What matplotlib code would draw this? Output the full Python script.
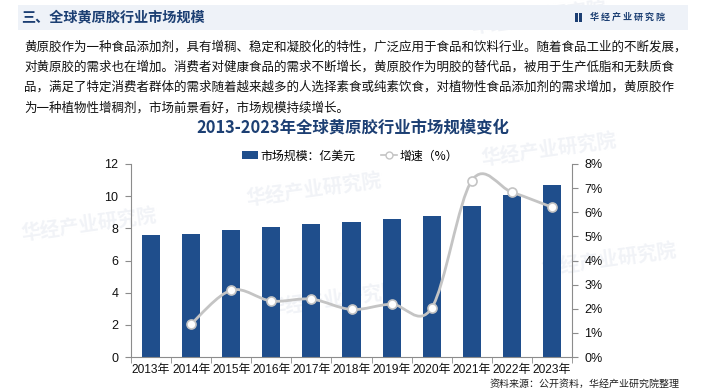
import matplotlib.pyplot as plt
from matplotlib.path import Path
from matplotlib.patches import PathPatch, Rectangle
from matplotlib.lines import Line2D

plt.rcParams['font.family'] = ['Liberation Sans', 'Noto Sans CJK SC', 'DejaVu Sans']

years = ['2013年', '2014年', '2015年', '2016年', '2017年', '2018年',
         '2019年', '2020年', '2021年', '2022年', '2023年']
market = [7.59, 7.66, 7.90, 8.09, 8.28, 8.40, 8.59, 8.77, 9.39, 10.08, 10.70]
growth = [None, 1.37, 2.77, 2.32, 2.40, 1.97, 2.19, 2.03, 7.31, 6.83, 6.21]
left_ticks = [0, 2, 4, 6, 8, 10, 12]
right_ticks = [0, 1, 2, 3, 4, 5, 6, 7, 8]

title = '三、全球黄原胶行业市场规模'
chart_title = '2013-2023年全球黄原胶行业市场规模变化'
body = [
    '黄原胶作为一种食品添加剂，具有增稠、稳定和凝胶化的特性，广泛应用于食品和饮料行业。随着食品工业的不断发展，',
    '对黄原胶的需求也在增加。消费者对健康食品的需求不断增长，黄原胶作为明胶的替代品，被用于生产低脂和无麸质食',
    '品，满足了特定消费者群体的需求随着越来越多的人选择素食或纯素饮食，对植物性食品添加剂的需求增加，黄原胶作',
    '为一种植物性增稠剂，市场前景看好，市场规模持续增长。',
]
source = '资料来源：公开资料，华经产业研究院整理'

blue = '#1F4E8C'
dark = '#1C3F73'
grey_line = '#C4C4C4'
axis_col = '#8C8C8C'

W, H = 705, 392
fig = plt.figure(figsize=(W / 100, H / 100), dpi=100)


def fx(px):
    return px / W


def fy(py):
    return 1 - py / H


# header band
fig.patches.append(Rectangle((fx(18), fy(30)), fx(670), 25 / H, transform=fig.transFigure,
                             facecolor='#EEF2F8', edgecolor='none', zorder=0))
fig.text(fx(21), fy(17), title, fontsize=10.2, fontweight='bold', color=dark,
         va='center', ha='left', family=['Noto Sans CJK SC'])
fig.patches.append(Rectangle((fx(575), fy(22)), fx(3), 9 / H, transform=fig.transFigure,
                             facecolor=dark, edgecolor='none'))
fig.patches.append(Rectangle((fx(579), fy(22)), fx(3), 9 / H, transform=fig.transFigure,
                             facecolor=dark, edgecolor='none'))
fig.text(fx(590), fy(17), ' '.join('华经产业研究院'), fontsize=6.5, fontweight='bold',
         color=dark, va='center', ha='left', family=['Noto Sans CJK SC'])

# faint watermarks
for (wx, wy) in [(470, 18), (480, 150), (245, 190), (20, 225), (265, 300), (540, 260)]:
    fig.text(fx(wx), fy(wy), '华经产业研究院', fontsize=14, fontweight='bold', color='#F1F3F7',
             rotation=8, ha='left', va='center', family=['Noto Sans CJK SC'], zorder=-1)

# body text
for i, line in enumerate(body):
    fig.text(fx(24), fy(47 + i * 20.3), line, fontsize=9.0, color='#111111',
             va='center', ha='left', family=['Noto Sans CJK SC'])

fig.text(fx(353), fy(128), chart_title, fontsize=11.8, fontweight='bold', color=dark,
         va='center', ha='center', family=['Noto Sans CJK SC'])

ax = fig.add_axes([fx(131), fy(357), fx(572 - 131), (357 - 164) / H])
ax.patch.set_alpha(0)
x = list(range(len(years)))
ax.bar(x, market, width=0.45, color=blue, zorder=2)
ax.set_xlim(-0.5, len(years) - 0.5)
ax.set_ylim(0, 12)
ax.set_yticks(left_ticks)
ax.set_xticks(x)
ax.set_xticklabels(years)
ax.set_xticks([i - 0.5 for i in range(len(years) + 1)], minor=True)
ax.tick_params(axis='x', which='major', length=0, pad=5, labelsize=8.6, colors='#111111')
ax.tick_params(axis='x', which='minor', length=4, color=axis_col, direction='out')
ax.tick_params(axis='y', length=4, color=axis_col, labelsize=9, pad=5, labelcolor='#111111')
for s in ['top', 'right']:
    ax.spines[s].set_visible(False)
for s in ['left', 'bottom']:
    ax.spines[s].set_color(axis_col)

ax2 = ax.twinx()
ax2.set_ylim(0, 8)
ax2.set_yticks(right_ticks)
ax2.set_yticklabels(['%d%%' % t for t in right_ticks])
ax2.tick_params(axis='y', length=4, color=axis_col, labelsize=9, pad=5, labelcolor='#111111')
for s in ['top', 'left', 'bottom']:
    ax2.spines[s].set_visible(False)
ax2.spines['right'].set_color(axis_col)

# smoothed growth line (Catmull-Rom as cubic Bezier)
pts = [(i, g) for i, g in enumerate(growth) if g is not None]
verts = [pts[0]]
codes = [Path.MOVETO]
for k in range(len(pts) - 1):
    p0 = pts[k - 1] if k > 0 else pts[k]
    p1 = pts[k]
    p2 = pts[k + 1]
    p3 = pts[k + 2] if k + 2 < len(pts) else pts[k + 1]
    c1 = (p1[0] + (p2[0] - p0[0]) / 6, p1[1] + (p2[1] - p0[1]) / 6)
    c2 = (p2[0] - (p3[0] - p1[0]) / 6, p2[1] - (p3[1] - p1[1]) / 6)
    verts += [c1, c2, p2]
    codes += [Path.CURVE4] * 3
ax2.add_patch(PathPatch(Path(verts, codes), facecolor='none', edgecolor=grey_line,
                        linewidth=2, zorder=3))
ax2.plot([p[0] for p in pts], [p[1] for p in pts], linestyle='none', marker='o',
         markersize=6.5, markerfacecolor='white', markeredgecolor=grey_line,
         markeredgewidth=1.2, zorder=4)

# legend
handles = [Rectangle((0, 0), 1, 1, facecolor=blue),
           Line2D([], [], color=grey_line, linewidth=1.2, marker='o', markersize=5,
                  markerfacecolor='white', markeredgecolor=grey_line)]
fig.legend(handles, ['市场规模：亿美元', '增速（%）'], loc='center',
           bbox_to_anchor=(fx(350), fy(156)), ncol=2, frameon=False,
           prop={'family': ['Noto Sans CJK SC'], 'size': 8.6}, handlelength=1.3,
           handleheight=0.6, handletextpad=0.2, columnspacing=2.2)

fig.text(fx(680), fy(384), source, fontsize=7.2, color='#222222', ha='right', va='center',
         family=['Noto Sans CJK SC'])

fig.savefig('out.png', dpi=100)
